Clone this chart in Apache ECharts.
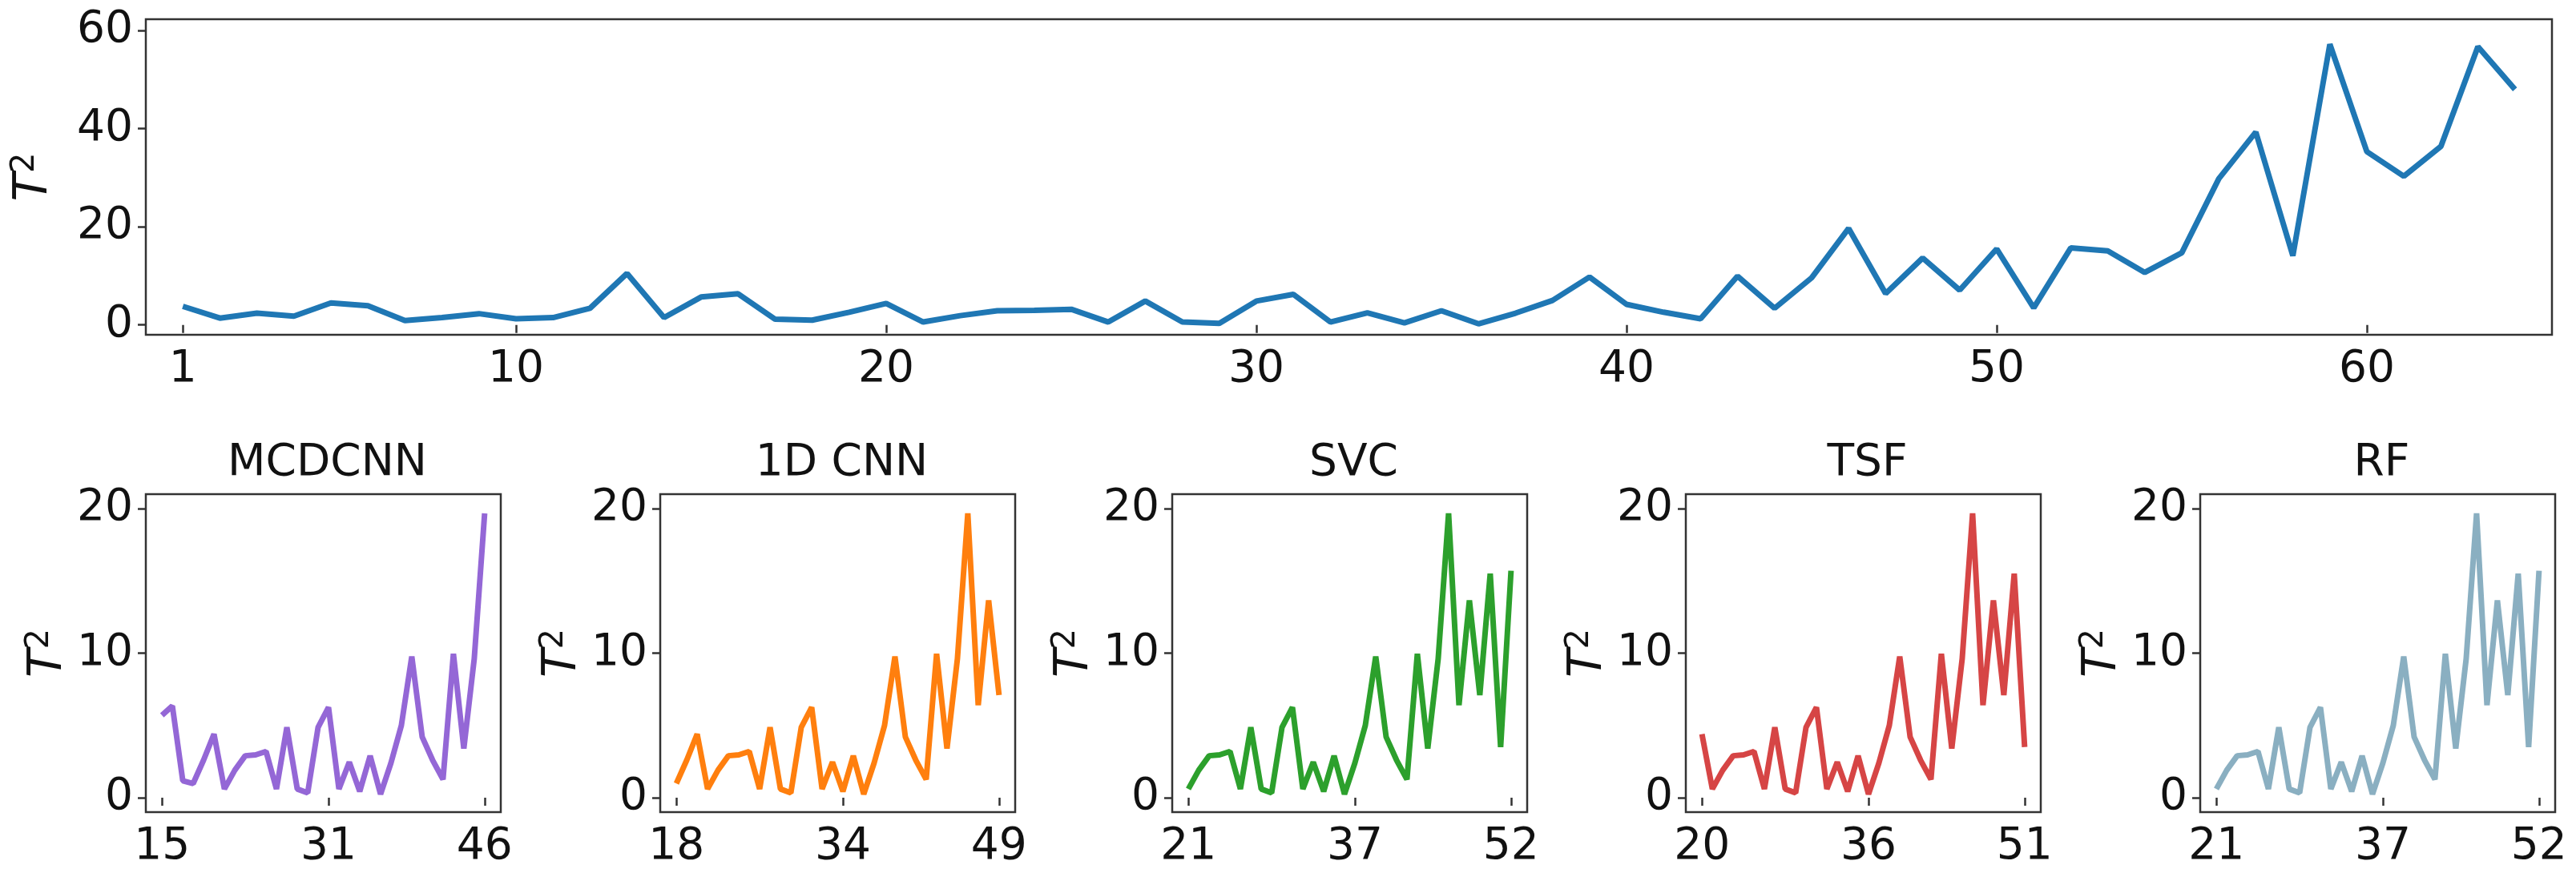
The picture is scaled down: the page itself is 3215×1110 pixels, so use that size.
<!DOCTYPE html>
<html><head><meta charset="utf-8">
<script src="https://cdn.jsdelivr.net/npm/echarts@6/dist/echarts.min.js"></script>
<style>html,body{margin:0;padding:0;background:#fff}#c{width:3215px;height:1110px}</style>
</head><body><div id="c"></div>
<script>
// T^2 values for observations 1..64
const t2Values = [3.8, 1.4, 2.4, 1.8, 4.5, 3.9, 0.9, 1.5, 2.3, 1.25, 1.5, 3.4, 10.5, 1.5,
  5.7, 6.35, 1.17, 0.98, 2.6, 4.4, 0.6, 1.9, 2.9, 2.96, 3.2, 0.6, 4.87, 0.6, 0.33, 4.87,
  6.25, 0.6, 2.46, 0.43, 2.9, 0.24, 2.4, 5.0, 9.77, 4.2, 2.6, 1.26, 9.95, 3.4, 9.6, 19.67,
  6.4, 13.65, 7.1, 15.5, 3.5, 15.7, 15.1, 10.7, 14.7, 29.8, 39.3, 14.1, 57.2, 35.3, 30.3,
  36.4, 56.7, 48.0];
const topXTicks = [1, 10, 20, 30, 40, 50, 60];
const topYTicks = [0, 20, 40, 60];
const panelNames = ['MCDCNN', '1D CNN', 'SVC', 'TSF', 'RF'];
const panelStart = [15, 18, 21, 20, 21];
const panelEnd = [46, 49, 52, 51, 52];
const panelXTicks = [[15, 31, 46], [18, 34, 49], [21, 37, 52], [20, 36, 51], [21, 37, 52]];
const panelYTicks = [0, 10, 20];
const panelColors = ['#9467d6', '#ff7f0e', '#2ca02c', '#d64545', '#8aafc1'];

const FONT = 'DejaVu Sans';
const FS = 55;
const chart = echarts.init(document.getElementById('c'));
const grids = [], xAxes = [], yAxes = [], series = [], titles = [];
const nameStyle = {fontSize: FS, fontFamily: FONT, color: '#111',
  rich: {t: {fontSize: 58, fontFamily: FONT, fontStyle: 'italic', color: '#111'},
         s: {fontSize: 40, fontFamily: FONT, color: '#111', verticalAlign: 'top', padding: [0, 0, 22, 0]}}};
function axisCommon(ticks) {
  return {
    axisLine: {show: false},
    splitLine: {show: false},
    axisTick: {show: true, inside: false, length: 10, lineStyle: {color: '#333', width: 2.5}, customValues: ticks},
    axisLabel: {show: true, color: '#111', fontSize: FS, fontFamily: FONT, customValues: ticks, margin: 16}
  };
}
grids.push({left: 182, top: 24, width: 3003, height: 394, show: true, borderColor: '#333', borderWidth: 2.5, backgroundColor: 'transparent'});
xAxes.push(Object.assign({type: 'value', gridIndex: 0, min: 0.0, max: 65}, axisCommon(topXTicks)));
yAxes.push(Object.assign({type: 'value', gridIndex: 0, min: -2, max: 62.3,
  name: '{t|T}{s|2}', nameLocation: 'middle', nameGap: 108, nameRotate: 90, nameTextStyle: nameStyle}, axisCommon(topYTicks)));
series.push({type: 'line', xAxisIndex: 0, yAxisIndex: 0, showSymbol: false, symbol: 'none',
  lineStyle: {color: '#1f77b4', width: 7}, data: t2Values.map((v, i) => [i + 1, v])});
const lefts = [182, 824, 1463, 2104, 2746];
for (let p = 0; p < 5; p++) {
  const g = p + 1;
  grids.push({left: lefts[p], top: 617, width: 443, height: 397, show: true, borderColor: '#333', borderWidth: 2.5, backgroundColor: 'transparent'});
  xAxes.push(Object.assign({type: 'value', gridIndex: g, min: panelStart[p] - 1.55, max: panelEnd[p] + 1.55}, axisCommon(panelXTicks[p])));
  yAxes.push(Object.assign({type: 'value', gridIndex: g, min: -1, max: 21,
    name: '{t|T}{s|2}', nameLocation: 'middle', nameGap: 90, nameRotate: 90, nameTextStyle: nameStyle}, axisCommon(panelYTicks)));
  const d = [];
  for (let x = panelStart[p]; x <= panelEnd[p]; x++) d.push([x, t2Values[x - 1]]);
  series.push({type: 'line', xAxisIndex: g, yAxisIndex: g, showSymbol: false, symbol: 'none',
    lineStyle: {color: panelColors[p], width: 7}, data: d});
  titles.push({text: panelNames[p], left: lefts[p] + 221.5, top: 546, textAlign: 'center',
    textStyle: {fontSize: FS, fontWeight: 'normal', fontFamily: FONT, color: '#111'}});
}
chart.setOption({animation: false, backgroundColor: '#fff', title: titles, grid: grids, xAxis: xAxes, yAxis: yAxes, series: series});
</script></body></html>
